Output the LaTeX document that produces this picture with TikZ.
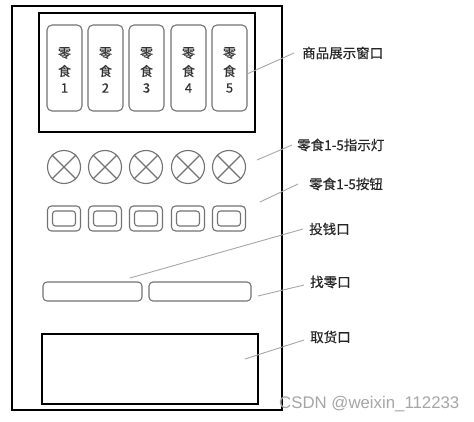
\documentclass[tikz,border=0pt]{standalone}
\usepackage{fontspec}
\newfontfamily\cjk[FakeBold=0.4]{Noto Sans CJK SC}
\newfontfamily\wmfont{Liberation Sans}
\begin{document}
\begin{tikzpicture}[x=1pt,y=-1pt,
  thickbox/.style={draw=black,line width=2.2pt},
  card/.style={draw=gray!90!black,line width=1.1pt,rounded corners=5pt},
  lamp/.style={draw=gray!90!black,line width=1.1pt},
  leader/.style={draw=gray!70,line width=0.9pt},
  lbl/.style={font=\cjk\fontsize{13.5}{15}\selectfont,text=black!85,inner sep=0pt,anchor=west},
  cardtxt/.style={font=\cjk\fontsize{13}{15}\selectfont,text=black!80,inner sep=0pt}]
\useasboundingbox (0,0) rectangle (474,422);
\fill[white] (0,0) rectangle (474,422);
% outer machine
\draw[thickbox] (12,6) rectangle (282,410);
% display window
\draw[thickbox] (39,13) rectangle (255,132);
\foreach \i/\x in {1/47,2/88,3/129,4/171,5/212}{
  \draw[card] (\x,25) rectangle ++(35,86);
  \node[cardtxt] (c\i a) at (\x+17.5,53) {零};
  \node[cardtxt] (c\i b) at (\x+17.5,71) {食};
  \node[cardtxt] (c\i n) at (\x+17.5,88) {\i};
}
\coordinate (disp) at (247,74);
% lamps
\foreach \i/\x in {1/64,2/105,3/146,4/188,5/229}{
  \node[lamp,circle,minimum size=33pt,inner sep=0pt] (l\i) at (\x,167) {};
  \draw[lamp] (l\i.45) -- (l\i.225) (l\i.135) -- (l\i.315);
}
% buttons
\foreach \i/\x in {1/64,2/105,3/146,4/188,5/229}{
  \node[card,rounded corners=4pt,minimum width=33pt,minimum height=25pt,inner sep=0pt] (b\i) at (\x,218.5) {};
  \node[card,rounded corners=3pt,minimum width=23pt,minimum height=15pt,inner sep=0pt] (bi\i) at (\x,218.5) {};
}
% slots
\draw[card,rounded corners=4pt] (43,282) rectangle (142,301);
\draw[card,rounded corners=4pt] (149,282) rectangle (251,301);
% pickup
\draw[thickbox] (42,334) rectangle (258,404);
% labels
\node[lbl] (t1) at (302,53) {商品展示窗口};
\node[lbl] (t2) at (297,145) {零食1-5指示灯};
\node[lbl] (t3) at (309,184) {零食1-5按钮};
\node[lbl] (t4) at (309,229) {投钱口};
\node[lbl] (t5) at (310,282) {找零口};
\node[lbl] (t6) at (310,337) {取货口};
\coordinate (p1) at (257,160);
\coordinate (p2) at (260,202);
\coordinate (p3) at (130,278);
\coordinate (p4) at (258,296);
\coordinate (p5) at (245,359);
\draw[leader] (disp) -- ([xshift=-8pt]t1.west);
\draw[leader] (p1) -- ([xshift=-5pt]t2.west);
\draw[leader] (p2) -- ([xshift=-11pt]t3.west);
\draw[leader] (p3) -- ([xshift=-6pt]t4.west);
\draw[leader] (p4) -- ([xshift=-6pt,yshift=-3pt]t5.west);
\draw[leader] (p5) -- ([xshift=-6pt,yshift=-3pt]t6.west);
% watermark
\node[font=\wmfont\fontsize{16.8}{18}\selectfont,text=gray!70,inner sep=0pt,anchor=west] (wm) at (279,404) {CSDN @weixin\_112233};
\end{tikzpicture}
\end{document}
